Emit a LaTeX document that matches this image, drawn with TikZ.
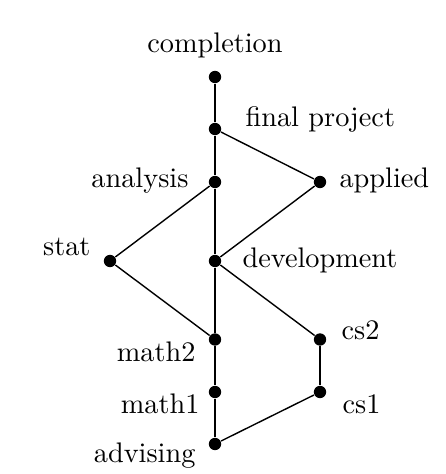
\documentclass[tikz,border=0pt]{standalone}
\begin{document}
\begin{tikzpicture}[x=0.357pt,y=-0.357pt,
  dot/.style={circle,fill=black,inner sep=0pt,minimum size=4.4pt},
  lbl/.style={inner sep=0pt,font=\fontsize{10.1}{12}\selectfont},
  edge/.style={line width=0.5pt}]
\useasboundingbox (0,0) rectangle (445,474);
% dots
\node[dot] (completion) at (215,77) {};
\node[dot] (final) at (215,129) {};
\node[dot] (analysis) at (215,182) {};
\node[dot] (applied) at (320,182) {};
\node[dot] (stat) at (110,261) {};
\node[dot] (development) at (215,261) {};
\node[dot] (math2) at (215,339.5) {};
\node[dot] (cs2) at (320,339.5) {};
\node[dot] (math1) at (215,392) {};
\node[dot] (cs1) at (320,392) {};
\node[dot] (advising) at (215,444) {};
% edges
\draw[edge] (completion) -- (final);
\draw[edge] (final) -- (analysis);
\draw[edge] (final) -- (applied);
\draw[edge] (analysis) -- (development);
\draw[edge] (analysis) -- (stat);
\draw[edge] (applied) -- (development);
\draw[edge] (stat) -- (math2);
\draw[edge] (development) -- (math2);
\draw[edge] (development) -- (cs2);
\draw[edge] (math2) -- (math1);
\draw[edge] (cs2) -- (cs1);
\draw[edge] (math1) -- (advising);
\draw[edge] (cs1) -- (advising);
% labels
\node[lbl,anchor=base] (tcompletion) at (215,53) {completion};
\node[lbl,anchor=base west] (tfinal) at (245,127) {final project};
\node[lbl,anchor=base east] (tanalysis) at (189,188) {analysis};
\node[lbl,anchor=base west] (tapplied) at (339,188) {applied};
\node[lbl,anchor=base east] (tstat) at (91,255) {stat};
\node[lbl,anchor=base west] (tdevelopment) at (242,268) {development};
\node[lbl,anchor=base east] (tmath2) at (196,361) {math2};
\node[lbl,anchor=base west] (tcs2) at (341,339) {cs2};
\node[lbl,anchor=base east] (tmath1) at (200,413) {math1};
\node[lbl,anchor=base west] (tcs1) at (342,413) {cs1};
\node[lbl,anchor=base east] (tadvising) at (196,462) {advising};
\end{tikzpicture}
\end{document}
